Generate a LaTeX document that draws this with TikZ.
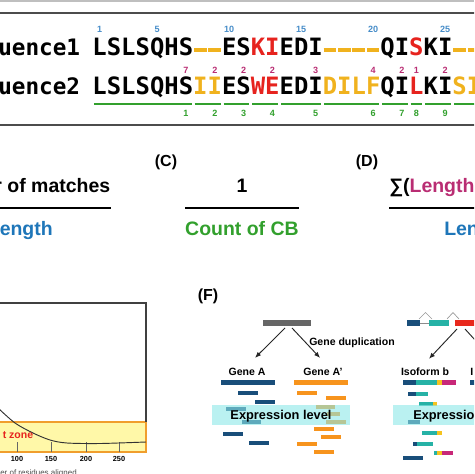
\documentclass[tikz,border=0pt]{standalone}
\usepackage{fontspec}
\setmainfont{Liberation Sans}
\newfontfamily\seqfont{DejaVu Sans Mono}
\usetikzlibrary{positioning,arrows.meta}
\definecolor{numblue}{RGB}{70,140,200}
\definecolor{lenblue}{RGB}{30,118,185}
\definecolor{lenpink}{RGB}{185,45,115}
\definecolor{cbgreen}{RGB}{50,160,45}
\definecolor{gapgold}{RGB}{240,178,30}
\definecolor{mutred}{RGB}{230,35,30}
\definecolor{genenavy}{RGB}{25,78,122}
\definecolor{geneorange}{RGB}{247,148,29}
\definecolor{exonteal}{RGB}{38,178,166}
\definecolor{exonred}{RGB}{232,40,28}
\definecolor{exonmag}{RGB}{200,40,120}
\definecolor{exonyellow}{RGB}{245,195,30}
\definecolor{zonefill}{RGB}{255,248,168}
\definecolor{zoneedge}{RGB}{240,158,45}
\definecolor{bandcyan}{RGB}{140,232,232}
\tikzset{
  residue/.style={font=\seqfont\bfseries\fontsize{17.9}{20}\selectfont, inner sep=0pt, anchor=base},
  rowlabel/.style={font=\seqfont\bfseries\fontsize{17}{20}\selectfont, inner sep=0pt, anchor=base west},
  posnum/.style={font=\bfseries\fontsize{6.8}{8}\selectfont, text=numblue, inner sep=0pt},
  lennum/.style={posnum, text=lenpink},
  cbnum/.style={posnum, text=cbgreen},
  gapline/.style={gapgold, line width=2.4pt},
  cbline/.style={cbgreen, line width=1.1pt},
  frameline/.style={black!70, line width=1.1pt},
  formula/.style={font=\bfseries\fontsize{14.6}{17}\selectfont, inner sep=0pt},
  fracline/.style={black, line width=1.4pt},
  panel/.style={font=\bfseries\fontsize{12}{14}\selectfont, inner sep=0pt},
  genetext/.style={font=\bfseries\fontsize{7.9}{9}\selectfont, inner sep=0pt},
  exprtext/.style={font=\bfseries\fontsize{9.6}{11}\selectfont, inner sep=0pt},
  tickno/.style={font=\bfseries\fontsize{5.5}{6}\selectfont, inner sep=0pt},
  duparrow/.style={-{Latex[length=4.5pt,width=3.6pt]}, black!85, line width=0.7pt}
}
\begin{document}
\begin{tikzpicture}[x=0.75pt, y=-0.75pt]
  \useasboundingbox (0,0) rectangle (474,474);
  \clip (0,0) rectangle (474,474);

  % alignment box
  \fill[black!25] (0,0) rectangle (474,2.5);
  \draw[frameline] (-5,13) -- (480,13);
  \draw[frameline] (-5,125) -- (480,125);
  \node[rowlabel] (seqA) at (-2,56) {uence1};
  \node[rowlabel] (seqB) at (-2,95) {uence2};
  \foreach \pos/\res/\tint in {0/L/black,1/S/black,2/L/black,3/S/black,4/Q/black,5/H/black,6/S/black,
      9/E/black,10/S/black,11/K/mutred,12/I/mutred,13/E/black,14/D/black,15/I/black,
      20/Q/black,21/I/black,22/S/mutred,23/K/black,24/I/black}
    \node[residue, text=\tint] (sa\pos) at ({99.6+14.4*\pos},56) {\res};
  \foreach \pos in {7,8,16,17,18,19,25,26}
    \draw[gapline] ({92.4+14.4*\pos+0.8},50) -- ({92.4+14.4*\pos+13.4},50);
  \foreach \pos/\res/\tint in {0/L/black,1/S/black,2/L/black,3/S/black,4/Q/black,5/H/black,6/S/black,
      7/I/gapgold,8/I/gapgold,9/E/black,10/S/black,11/W/mutred,12/E/mutred,13/E/black,14/D/black,15/I/black,
      16/D/gapgold,17/I/gapgold,18/L/gapgold,19/F/gapgold,20/Q/black,21/I/black,22/L/mutred,23/K/black,
      24/I/black,25/S/gapgold,26/I/gapgold}
    \node[residue, text=\tint] (sb\pos) at ({99.6+14.4*\pos},95) {\res};
  \foreach \pos/\num in {0/1,4/5,9/10,14/15,19/20,24/25}
    \node[posnum] (p\num) at ({99.6+14.4*\pos},29) {\num};
  % conserved blocks
  \foreach \a/\b/\len/\k in {0/6/7/1,7/8/2/2,9/10/2/3,11/12/2/4,13/15/3/5,16/19/4/6,20/21/2/7,22/22/1/8,23/24/2/9}{
    \draw[cbline] ({92.4+14.4*\a+1.5},104) -- ({92.4+14.4*(\b+1)-1.5},104);
    \node[lennum] (len\k) at ({99.6+14.4*\b},70) {\len};
    \node[cbnum] (cb\k) at ({99.6+14.4*\b},113) {\k};
  }
  \draw[cbline] (454,104) -- (480,104);

  % scores
  \node[formula, anchor=base east] (numB) at (110.5,192) {r of matches};
  \draw[fracline] (-5,208) -- (111,208);
  \node[formula, anchor=base west, text=lenblue] (denB) at (-0.5,235) {ength};
  \node[panel] (labC) at (166,162) {(C)};
  \node[formula, anchor=base] (numC) at (242,192) {1};
  \draw[fracline] (185,208) -- (299,208);
  \node[formula, anchor=base, text=cbgreen] (denC) at (242,235) {Count of CB};
  \node[panel] (labD) at (367,162) {(D)};
  \node[formula, anchor=base west] (numD) at (389,192) {∑(\textcolor{lenpink}{Length}};
  \draw[fracline] (389,208) -- (480,208);
  \node[formula, anchor=base west, text=lenblue] (denD) at (444,235) {Len};

  % twilight zone plot
  \fill[zonefill] (-5,422) rectangle (146,452);
  \draw[zoneedge, line width=1.3pt] (-5,422) rectangle (146,452);
  \draw[black!75, line width=1.1pt] (-5,303) -- (146,303) -- (146,422);
  \foreach \tx/\tl in {17/100,51/150,86/200,119/250}{
    \draw[black!60, line width=0.6pt] (\tx,452) -- (\tx,442);
    \node[tickno] (t\tl) at (\tx,459) {\tl};
  }
  \draw[black!80, line width=0.7pt] plot[smooth] coordinates
    {(-2,408) (15,423) (33,433) (50,440) (67,443) (100,443.5) (146,442)};
  \node[font=\bfseries\fontsize{7.9}{9}\selectfont, text=mutred, inner sep=0pt, anchor=base east] (zone) at (33.5,438) {t zone};
  \node[font=\fontsize{6}{7}\selectfont, text=black!70, inner sep=0pt, anchor=base west] (xlab) at (0,475) {er of residues aligned};

  % (F) duplication
  \node[panel] (labF) at (208,296) {(F)};
  \fill[black!60] (263,320) rectangle (311,326);
  \coordinate (dupL) at (285,328);
  \coordinate (dupR) at (292,328);
  \node[genetext] (geneA) at (247,372) {Gene A};
  \node[genetext] (geneAp) at (323,372) {Gene A'};
  \node[genetext, anchor=base west] (dup) at (309,345) {Gene duplication};
  \draw[duparrow] (dupL) -- ([xshift=6pt,yshift=7.6pt]geneA.north);
  \draw[duparrow] (dupR) -- ([xshift=-2.2pt,yshift=7.6pt]geneAp.north);
  \fill[genenavy] (221,380) rectangle (275,385);
  \fill[geneorange] (294,380) rectangle (348,385);
  \foreach \xa/\xb/\yy in {238/258/393,255/275/402,226/246/409,242/261/422,223/243/434,249/269/443}
    \fill[genenavy] (\xa,\yy-1.6) rectangle (\xb,\yy+1.6);
  \foreach \xa/\xb/\yy in {297/317/393,326/346/398,316/335/407,327/340/414,326/346/422,314/334/429,321/341/437,297/317/444,314/334/452}
    \fill[geneorange] (\xa,\yy-1.6) rectangle (\xb,\yy+1.6);
  \fill[bandcyan, opacity=0.6] (212,405) rectangle (350,425);
  \node[exprtext] (exprA) at (281,416) {Expression level};

  % (F) alternative splicing
  \draw[black!45, line width=0.6pt] (420,323) -- (429,323);
  \draw[black!40, line width=0.5pt] (419,319) -- (425.5,312.5) -- (432,319);
  \draw[black!40, line width=0.5pt] (447,319) -- (453,312.5) -- (459,319);
  \fill[genenavy] (407,320) rectangle (420,326);
  \fill[exonteal] (429,320) rectangle (449,326);
  \fill[exonred] (455,320) rectangle (480,326);
  \coordinate (exL) at (457,329);
  \coordinate (exR) at (465,329);
  \coordinate (isoA) at (486,352);
  \node[genetext] (isoB) at (425,372) {Isoform b};
  \node[genetext, anchor=west] (isoN) at (470,372) {I};
  \draw[duparrow] (exL) -- ([xshift=3pt,yshift=6.8pt]isoB.north);
  \draw[duparrow] (exR) -- (isoA);
  \fill[genenavy] (403,380) rectangle (416,385);
  \fill[exonteal] (416,380) rectangle (437,385);
  \fill[exonyellow] (437,380) rectangle (442,385);
  \fill[exonmag] (442,380) rectangle (456,385);
  \fill[genenavy] (470,380) rectangle (480,385);
  \foreach \xa/\xb/\yy/\tint in {408/416/394/genenavy,416/428/394/exonteal,
      419/433/404/exonteal,433/437/404/exonyellow,
      408/420/422/genenavy,
      422/437/433/exonteal,437/442/433/exonyellow,
      413/417/444/genenavy,417/433/444/exonteal,
      434/437/453/exonteal,437/442/453/exonyellow,442/453/453/exonmag,
      403/423/458/genenavy}
    \fill[\tint] (\xa,\yy-1.6) rectangle (\xb,\yy+1.6);
  \fill[bandcyan, opacity=0.6] (393,405) rectangle (480,425);
  \node[exprtext, anchor=west] (exprB) at (413,416) {Expressio};
\end{tikzpicture}
\end{document}
